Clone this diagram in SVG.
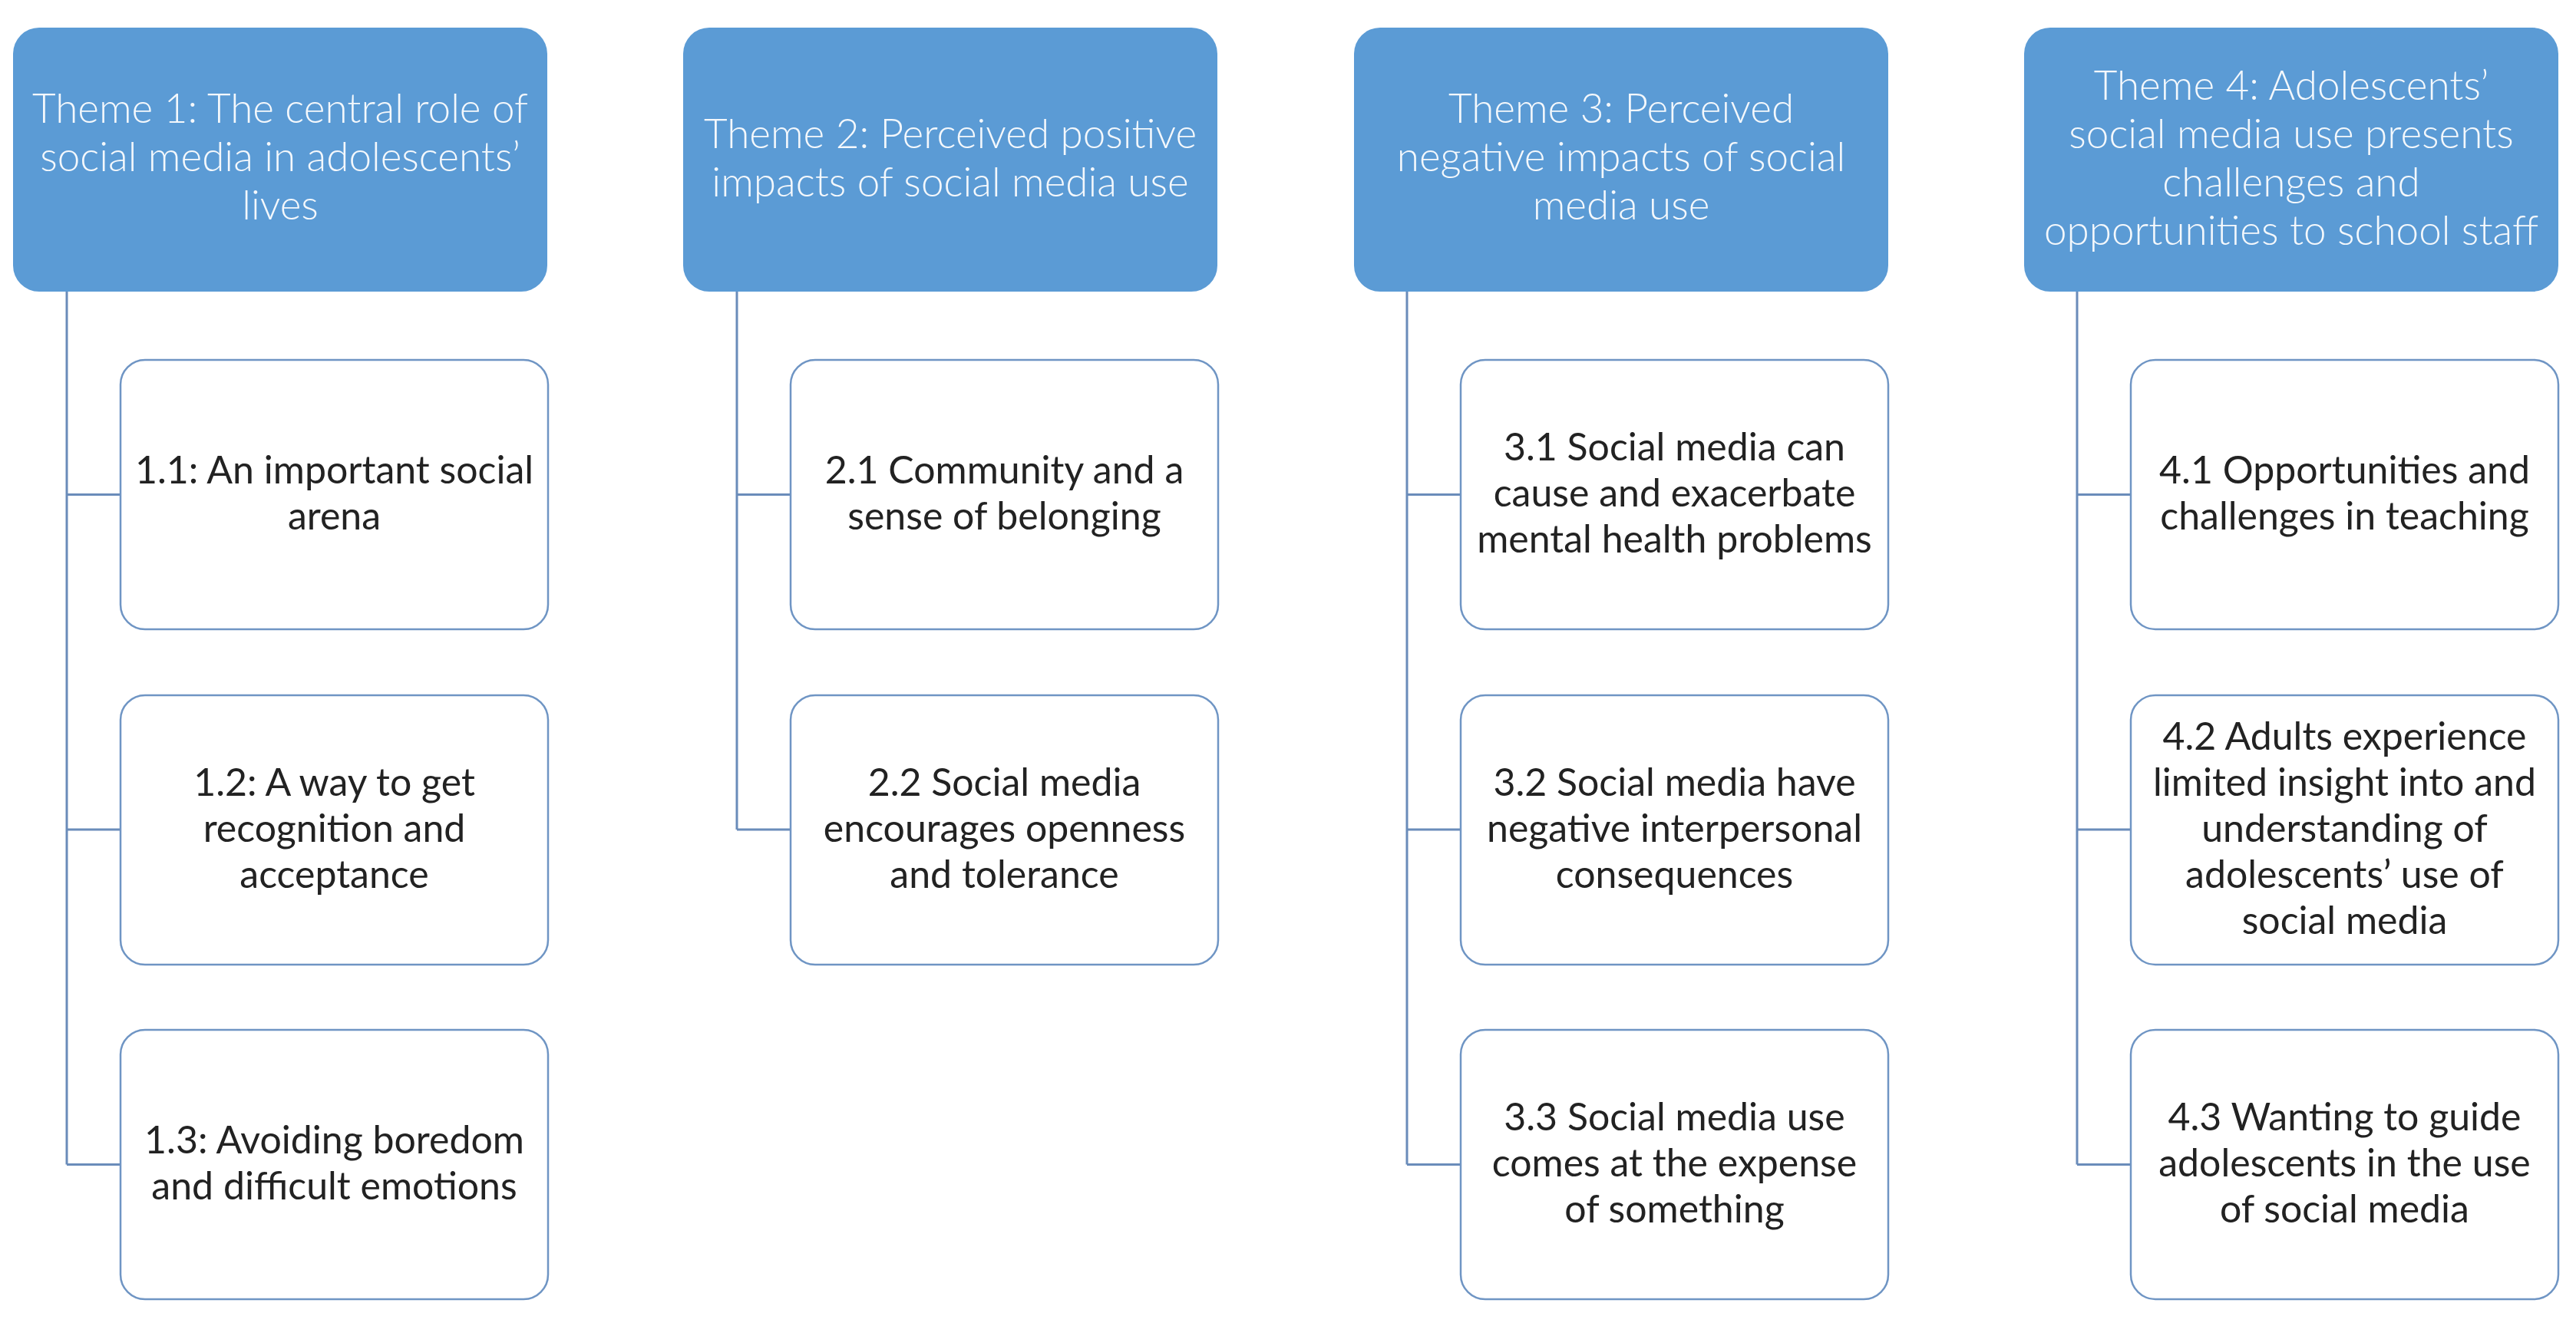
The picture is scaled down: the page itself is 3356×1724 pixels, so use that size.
<svg xmlns="http://www.w3.org/2000/svg" width="3356" height="1724" viewBox="0 0 3356 1724">
<style>
.hdr{fill:#5B9BD5;}
.sub{fill:#ffffff;stroke:#6f95c4;stroke-width:2.5;}
.ht{font-family:Lato,"Open Sans","Liberation Sans",sans-serif;font-weight:300;font-size:53px;fill:#f4f8fc;text-anchor:middle;}
.st{font-family:Lato,"Open Sans","Liberation Sans",sans-serif;font-weight:400;font-size:50px;fill:#222222;text-anchor:middle;}
.con{fill:none;stroke:#6a8cba;stroke-width:3;}
</style>
<rect width="3356" height="1724" fill="#ffffff"/>
<g id="connectors">
<path class="con" d="M87 380 V1517.5 M87 644.5 H157 M87 1081 H157 M87 1517.5 H157"/>
<path class="con" d="M960 380 V1081 M960 644.5 H1030 M960 1081 H1030"/>
<path class="con" d="M1833 380 V1517.5 M1833 644.5 H1903 M1833 1081 H1903 M1833 1517.5 H1903"/>
<path class="con" d="M2706 380 V1517.5 M2706 644.5 H2776 M2706 1081 H2776 M2706 1517.5 H2776"/>
</g>
<g id="theme1">
<rect class="hdr" x="17" y="36" width="696" height="344" rx="34"/>
<text class="ht"><tspan x="365" y="160">Theme 1: The central role of</tspan><tspan x="365" y="223">social media in adolescents’</tspan><tspan x="365" y="286">lives</tspan></text>
</g>
<g id="theme2">
<rect class="hdr" x="890" y="36" width="696" height="344" rx="34"/>
<text class="ht"><tspan x="1238" y="193">Theme 2: Perceived positive</tspan><tspan x="1238" y="256">impacts of social media use</tspan></text>
</g>
<g id="theme3">
<rect class="hdr" x="1764" y="36" width="696" height="344" rx="34"/>
<text class="ht"><tspan x="2112" y="160">Theme 3: Perceived</tspan><tspan x="2112" y="223">negative impacts of social</tspan><tspan x="2112" y="286">media use</tspan></text>
</g>
<g id="theme4">
<rect class="hdr" x="2637" y="36" width="696" height="344" rx="34"/>
<text class="ht"><tspan x="2985" y="130">Theme 4: Adolescents’</tspan><tspan x="2985" y="193">social media use presents</tspan><tspan x="2985" y="256">challenges and</tspan><tspan x="2985" y="319">opportunities to school staff</tspan></text>
</g>
<g id="s1_1">
<rect class="sub" x="157" y="469" width="557" height="351" rx="32"/>
<text class="st"><tspan x="435.5" y="630">1.1: An important social</tspan><tspan x="435.5" y="690">arena</tspan></text>
</g>
<g id="s1_2">
<rect class="sub" x="157" y="906" width="557" height="351" rx="32"/>
<text class="st"><tspan x="435.5" y="1037">1.2: A way to get</tspan><tspan x="435.5" y="1097">recognition and</tspan><tspan x="435.5" y="1157">acceptance</tspan></text>
</g>
<g id="s1_3">
<rect class="sub" x="157" y="1342" width="557" height="351" rx="32"/>
<text class="st"><tspan x="435.5" y="1503">1.3: Avoiding boredom</tspan><tspan x="435.5" y="1563">and difficult emotions</tspan></text>
</g>
<g id="s2_1">
<rect class="sub" x="1030" y="469" width="557" height="351" rx="32"/>
<text class="st"><tspan x="1308.5" y="630">2.1 Community and a</tspan><tspan x="1308.5" y="690">sense of belonging</tspan></text>
</g>
<g id="s2_2">
<rect class="sub" x="1030" y="906" width="557" height="351" rx="32"/>
<text class="st"><tspan x="1308.5" y="1037">2.2 Social media</tspan><tspan x="1308.5" y="1097">encourages openness</tspan><tspan x="1308.5" y="1157">and tolerance</tspan></text>
</g>
<g id="s3_1">
<rect class="sub" x="1903" y="469" width="557" height="351" rx="32"/>
<text class="st"><tspan x="2181.5" y="600">3.1 Social media can</tspan><tspan x="2181.5" y="660">cause and exacerbate</tspan><tspan x="2181.5" y="720">mental health problems</tspan></text>
</g>
<g id="s3_2">
<rect class="sub" x="1903" y="906" width="557" height="351" rx="32"/>
<text class="st"><tspan x="2181.5" y="1037">3.2 Social media have</tspan><tspan x="2181.5" y="1097">negative interpersonal</tspan><tspan x="2181.5" y="1157">consequences</tspan></text>
</g>
<g id="s3_3">
<rect class="sub" x="1903" y="1342" width="557" height="351" rx="32"/>
<text class="st"><tspan x="2181.5" y="1473">3.3 Social media use</tspan><tspan x="2181.5" y="1533">comes at the expense</tspan><tspan x="2181.5" y="1593">of something</tspan></text>
</g>
<g id="s4_1">
<rect class="sub" x="2776" y="469" width="557" height="351" rx="32"/>
<text class="st"><tspan x="3054.5" y="630">4.1 Opportunities and</tspan><tspan x="3054.5" y="690">challenges in teaching</tspan></text>
</g>
<g id="s4_2">
<rect class="sub" x="2776" y="906" width="557" height="351" rx="32"/>
<text class="st"><tspan x="3054.5" y="977">4.2 Adults experience</tspan><tspan x="3054.5" y="1037">limited insight into and</tspan><tspan x="3054.5" y="1097">understanding of</tspan><tspan x="3054.5" y="1157">adolescents’ use of</tspan><tspan x="3054.5" y="1217">social media</tspan></text>
</g>
<g id="s4_3">
<rect class="sub" x="2776" y="1342" width="557" height="351" rx="32"/>
<text class="st"><tspan x="3054.5" y="1473">4.3 Wanting to guide</tspan><tspan x="3054.5" y="1533">adolescents in the use</tspan><tspan x="3054.5" y="1593">of social media</tspan></text>
</g>
</svg>
